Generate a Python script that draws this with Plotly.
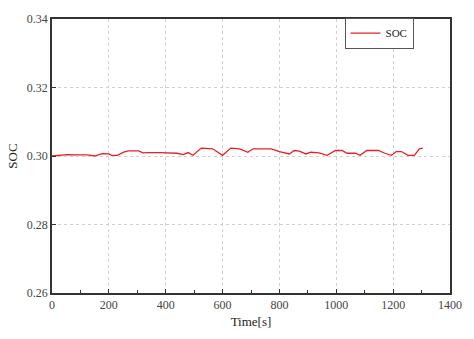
import plotly.graph_objects as go

time_s = [0, 55, 90, 126, 150, 177, 200, 210, 230, 252, 270, 305, 320, 336, 380, 417, 440, 462, 479, 496,
          525, 565, 600, 629, 660, 689, 707, 771, 800, 835, 852, 870, 893, 910, 939, 968, 997, 1020, 1038,
          1067, 1084, 1107, 1148, 1171, 1194, 1211, 1229, 1252, 1275, 1292, 1304]
soc = [0.3000, 0.3004, 0.3003, 0.3003, 0.3000, 0.3007, 0.3006, 0.3002, 0.3002, 0.3011, 0.3015, 0.3015,
       0.3009, 0.3010, 0.3010, 0.3010, 0.3008, 0.3004, 0.3010, 0.3002,
       0.3023, 0.3021, 0.3002, 0.3023, 0.3021, 0.3011, 0.3021, 0.3021, 0.3013, 0.3006, 0.3016, 0.3014,
       0.3006, 0.3011, 0.3009, 0.3002, 0.3016, 0.3016, 0.3008, 0.3008, 0.3002, 0.3016, 0.3016, 0.3008,
       0.3002, 0.3013, 0.3013, 0.3002, 0.3002, 0.3021, 0.3023]

x_ticks = [0, 200, 400, 600, 800, 1000, 1200, 1400]
y_ticks = [0.26, 0.28, 0.30, 0.32, 0.34]

font_family = "Liberation Serif, DejaVu Serif, serif"

fig = go.Figure()
fig.add_trace(go.Scatter(x=time_s, y=soc, mode="lines", name="SOC",
                         line=dict(color="#e8202a", width=1.3)))

axis_common = dict(showline=True, linecolor="#333333", linewidth=1.5, mirror=True,
                   showgrid=True, gridcolor="#d0d0d0", griddash="dot", gridwidth=1,
                   ticks="inside", ticklen=4, tickcolor="#333333", zeroline=False,
                   tickfont=dict(family=font_family, size=12, color="#444444"))

fig.update_xaxes(range=[0, 1400], tickvals=x_ticks, title=dict(text="Time[s]", standoff=6,
                 font=dict(family=font_family, size=13, color="#222222")),
                 minor=dict(ticks="inside", ticklen=3, dtick=100, tickcolor="#333333", showgrid=False),
                 **axis_common)
fig.update_yaxes(range=[0.26, 0.34], tickvals=y_ticks, tickformat=".2f",
                 title=dict(text="SOC", standoff=6, font=dict(family=font_family, size=13, color="#222222")),
                 **axis_common)

fig.update_layout(width=474, height=339, margin=dict(l=50, r=22, t=12, b=43),
                  plot_bgcolor="white", paper_bgcolor="white",
                  showlegend=True,
                  legend=dict(x=0.735, y=1.005, xanchor="left", yanchor="top",
                              bordercolor="#555555", borderwidth=1, bgcolor="white",
                              font=dict(family=font_family, size=11, color="#222222"),
                              itemwidth=30, tracegroupgap=0))

fig.write_html("out.html")
